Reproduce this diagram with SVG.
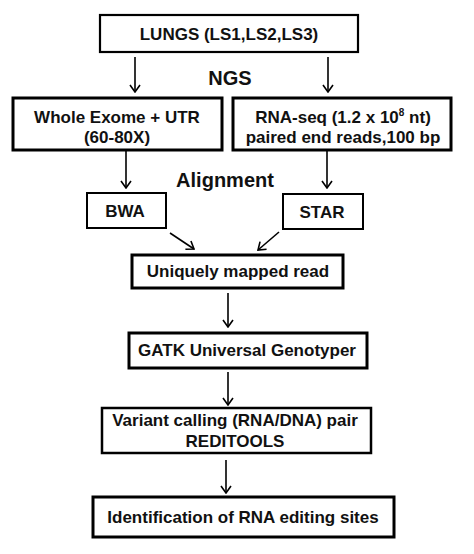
<svg xmlns="http://www.w3.org/2000/svg" width="474" height="554" viewBox="0 0 474 554">
<style>
.box{fill:#fff;stroke:#000}
.t{font-family:"Liberation Sans",Arial,sans-serif;font-weight:bold;font-size:17px;fill:#111;text-anchor:middle}
.lbl{font-size:20px}
.c{stroke:#000;stroke-width:1.6;fill:none;marker-end:url(#ah)}
</style>
<defs>
<marker id="ah" markerUnits="userSpaceOnUse" viewBox="0 0 12 12" markerWidth="12" markerHeight="12" refX="11" refY="6" orient="auto">
<path d="M4,1 L11,6 L4,11" fill="none" stroke="#000" stroke-width="1.6"/>
</marker>
</defs>
<rect width="474" height="554" fill="#fff"/>
<g id="connectors">
<line class="c" x1="135" y1="57" x2="135" y2="92"/>
<line class="c" x1="328" y1="57" x2="328" y2="92"/>
<line class="c" x1="126" y1="151" x2="126" y2="188"/>
<line class="c" x1="327" y1="151" x2="327" y2="188"/>
<line class="c" x1="170" y1="233" x2="194" y2="249"/>
<line class="c" x1="279" y1="232" x2="258" y2="250"/>
<line class="c" x1="228" y1="293" x2="228" y2="327"/>
<line class="c" x1="228" y1="372" x2="228" y2="405"/>
<line class="c" x1="226" y1="460" x2="226" y2="493"/>
</g>
<g id="labels">
<text class="t lbl" x="230" y="85">NGS</text>
<text class="t lbl" x="225" y="187">Alignment</text>
</g>
<g id="lungs">
<rect class="box" x="100" y="15" width="258" height="37" stroke-width="2.2"/>
<text class="t" x="229" y="40">LUNGS (LS1,LS2,LS3)</text>
</g>
<g id="exome">
<rect class="box" x="13" y="98" width="209" height="52" stroke-width="3"/>
<text class="t" x="117" y="123">Whole Exome + UTR</text>
<text class="t" x="117" y="143">(60-80X)</text>
</g>
<g id="rnaseq">
<rect class="box" x="233" y="98" width="218" height="52" stroke-width="3"/>
<text class="t" x="343" y="123">RNA-seq (1.2 x 10<tspan font-size="10" dy="-7">8</tspan><tspan dy="7"> nt)</tspan></text>
<text class="t" x="343" y="143">paired end reads,100 bp</text>
</g>
<g id="bwa">
<rect class="box" x="87" y="193" width="79" height="35" stroke-width="2"/>
<text class="t" x="125" y="217">BWA</text>
</g>
<g id="star">
<rect class="box" x="283" y="194" width="80" height="35" stroke-width="2"/>
<text class="t" x="322" y="218">STAR</text>
</g>
<g id="unique">
<rect class="box" x="132" y="255" width="211" height="33" stroke-width="3"/>
<text class="t" x="238" y="277">Uniquely mapped read</text>
</g>
<g id="gatk">
<rect class="box" x="129" y="333" width="238" height="35" stroke-width="3"/>
<text class="t" x="247" y="356">GATK Universal Genotyper</text>
</g>
<g id="variant">
<rect class="box" x="102" y="408" width="269" height="45" stroke-width="2.5"/>
<text class="t" x="235" y="426">Variant calling (RNA/DNA) pair</text>
<text class="t" x="235" y="447">REDITOOLS</text>
</g>
<g id="identification">
<rect class="box" x="93" y="497" width="301" height="40" stroke-width="3"/>
<text class="t" x="243" y="523">Identification of RNA editing sites</text>
</g>
</svg>
